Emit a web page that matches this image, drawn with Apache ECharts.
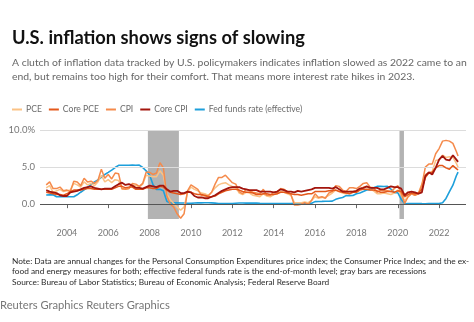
<!DOCTYPE html>
<html>
<head>
<meta charset="utf-8">
<style>
  html, body { margin: 0; padding: 0; background: #fff; }
  #chart { width: 474px; height: 322px; }
</style>
<script src="https://cdn.jsdelivr.net/npm/echarts@6/dist/echarts.min.js"></script>
</head>
<body>
<div id="chart"></div>
<script>
// Year-over-year % changes, sampled every other month (Jan, Mar, May, Jul, Sep, Nov) 2003-2022, plus Dec 2022
const pce = [
  2.2, 2.5, 1.6, 1.8, 2.0, 1.7,
  1.8, 1.9, 2.8, 2.6, 2.3, 3.0,
  2.6, 2.8, 2.5, 3.0, 3.9, 3.0,
  3.3, 2.9, 3.3, 3.2, 2.0, 2.0,
  2.1, 2.6, 2.5, 2.3, 2.7, 3.9,
  3.8, 3.7, 3.7, 4.5, 3.9, 1.4,
  0.6, 0.1, -0.4, -0.8, -0.4, 1.6,
  2.3, 2.0, 1.8, 1.5, 1.4, 1.2,
  1.6, 2.2, 2.6, 2.8, 2.9, 2.6,
  2.4, 2.3, 1.5, 1.3, 1.6, 1.5,
  1.2, 1.1, 1.0, 1.4, 1.1, 1.0,
  1.3, 1.4, 1.7, 1.6, 1.4, 1.2,
  0.2, 0.2, 0.2, 0.3, 0.2, 0.5,
  1.0, 0.8, 0.9, 0.9, 1.2, 1.5,
  1.9, 1.7, 1.5, 1.4, 1.7, 1.7,
  1.7, 2.0, 2.3, 2.3, 2.0, 1.8,
  1.4, 1.4, 1.5, 1.4, 1.3, 1.5,
  1.9, 1.3, 0.5, 1.0, 1.4, 1.2,
  1.5, 2.7, 4.0, 4.2, 4.4, 5.9,
  6.0, 6.6, 6.3, 6.4, 6.3, 5.5,
  5.0
];
const corePce = [
  1.6, 1.5, 1.4, 1.3, 1.3, 1.2,
  1.4, 1.7, 1.9, 1.9, 1.9, 2.0,
  2.1, 2.1, 2.0, 2.0, 2.0, 2.0,
  2.0, 2.0, 2.2, 2.4, 2.4, 2.2,
  2.3, 2.3, 2.0, 2.0, 2.0, 2.2,
  2.2, 2.1, 2.1, 2.4, 2.3, 1.9,
  1.6, 1.5, 1.4, 1.3, 1.4, 1.6,
  1.6, 1.4, 1.3, 1.3, 1.2, 1.0,
  1.0, 1.1, 1.4, 1.6, 1.8, 1.9,
  2.0, 2.0, 1.9, 1.7, 1.6, 1.6,
  1.5, 1.3, 1.3, 1.4, 1.4, 1.3,
  1.3, 1.4, 1.6, 1.6, 1.5, 1.4,
  1.3, 1.3, 1.2, 1.3, 1.4, 1.4,
  1.7, 1.7, 1.7, 1.7, 1.8, 1.8,
  1.9, 1.7, 1.6, 1.5, 1.4, 1.6,
  1.6, 1.9, 2.0, 2.0, 1.9, 1.9,
  1.8, 1.6, 1.6, 1.7, 1.7, 1.6,
  1.8, 1.7, 1.0, 1.3, 1.5, 1.4,
  1.5, 2.0, 3.6, 4.2, 4.3, 4.9,
  5.2, 5.2, 4.9, 4.7, 5.2, 4.8,
  4.6
];
const cpi = [
  2.6, 3.0, 2.1, 2.1, 2.3, 1.8,
  1.9, 1.7, 3.1, 3.0, 2.5, 3.5,
  3.0, 3.1, 2.8, 3.2, 4.7, 3.5,
  4.0, 3.4, 4.2, 4.1, 2.1, 2.0,
  2.1, 2.8, 2.7, 2.4, 2.8, 4.3,
  4.3, 4.0, 4.2, 5.6, 4.9, 1.1,
  0.0, -0.4, -1.3, -1.9, -1.3, 1.8,
  2.6, 2.3, 2.0, 1.2, 1.1, 1.1,
  1.6, 2.7, 3.6, 3.6, 3.9, 3.4,
  2.9, 2.7, 1.7, 1.4, 2.0, 1.8,
  1.6, 1.5, 1.4, 2.0, 1.2, 1.2,
  1.6, 1.5, 2.1, 2.0, 1.7, 1.3,
  -0.1, -0.1, 0.0, 0.2, 0.0, 0.5,
  1.4, 0.9, 1.0, 0.8, 1.5, 1.7,
  2.5, 2.4, 1.9, 1.7, 2.2, 2.2,
  2.1, 2.4, 2.8, 2.9, 2.3, 2.2,
  1.6, 1.9, 1.8, 1.8, 1.7, 2.1,
  2.5, 1.5, 0.1, 1.0, 1.4, 1.2,
  1.4, 2.6, 5.0, 5.4, 5.4, 6.8,
  7.5, 8.5, 8.6, 8.5, 8.2, 7.1,
  6.5
];
const coreCpi = [
  1.9, 1.7, 1.6, 1.5, 1.2, 1.1,
  1.1, 1.6, 1.7, 1.8, 2.0, 2.2,
  2.3, 2.4, 2.2, 2.1, 2.0, 2.1,
  2.1, 2.1, 2.4, 2.7, 2.9, 2.6,
  2.7, 2.5, 2.2, 2.2, 2.1, 2.3,
  2.5, 2.4, 2.3, 2.5, 2.5, 2.0,
  1.7, 1.8, 1.8, 1.5, 1.5, 1.7,
  1.6, 1.1, 0.9, 0.9, 0.8, 0.8,
  1.0, 1.2, 1.5, 1.8, 2.0, 2.2,
  2.3, 2.3, 2.3, 2.1, 2.0, 1.9,
  1.9, 1.9, 1.7, 1.7, 1.7, 1.7,
  1.6, 1.7, 2.0, 1.9, 1.7, 1.7,
  1.6, 1.8, 1.7, 1.8, 1.9, 2.0,
  2.2, 2.2, 2.2, 2.2, 2.2, 2.1,
  2.3, 2.0, 1.7, 1.7, 1.7, 1.7,
  1.8, 2.1, 2.2, 2.4, 2.2, 2.2,
  2.2, 2.0, 2.0, 2.2, 2.4, 2.3,
  2.3, 2.1, 1.2, 1.6, 1.7, 1.6,
  1.4, 1.6, 3.8, 4.3, 4.0, 4.9,
  6.0, 6.5, 6.0, 5.9, 6.6, 6.0,
  5.7
];
// Effective federal funds rate, end-of-month level, %
const fedFunds = [
  1.24, 1.25, 1.26, 1.01, 1.01, 1.00,
  1.00, 1.00, 1.00, 1.26, 1.61, 1.93,
  2.28, 2.63, 3.00, 3.26, 3.62, 4.00,
  4.29, 4.59, 4.94, 5.24, 5.25, 5.25,
  5.25, 5.26, 5.25, 5.26, 4.94, 4.49,
  3.94, 2.61, 1.98, 2.01, 1.81, 0.39,
  0.15, 0.18, 0.18, 0.16, 0.15, 0.12,
  0.11, 0.16, 0.20, 0.18, 0.19, 0.19,
  0.17, 0.14, 0.09, 0.07, 0.08, 0.08,
  0.08, 0.13, 0.16, 0.16, 0.14, 0.16,
  0.14, 0.14, 0.11, 0.09, 0.08, 0.08,
  0.07, 0.08, 0.09, 0.09, 0.09, 0.09,
  0.11, 0.11, 0.12, 0.13, 0.14, 0.12,
  0.34, 0.36, 0.37, 0.39, 0.40, 0.41,
  0.65, 0.79, 0.91, 1.15, 1.15, 1.16,
  1.41, 1.51, 1.70, 1.91, 1.95, 2.20,
  2.40, 2.41, 2.39, 2.40, 2.04, 1.55,
  1.55, 0.65, 0.05, 0.09, 0.09, 0.09,
  0.09, 0.07, 0.06, 0.10, 0.08, 0.08,
  0.08, 0.20, 0.77, 1.68, 2.56, 3.83,
  4.33
];
// Recession periods as [start, end] in decimal years
const recessions = [[2007.917, 2009.417], [2020.083, 2020.3]];
const yearTicks = [2004, 2006, 2008, 2010, 2012, 2014, 2016, 2018, 2020, 2022];
const yTicks = [0, 5, 10];

// Sample months: odd months of each year, then December 2022
const months = [];
for (let y = 2003; y <= 2022; y++) {
  for (const m of [1, 3, 5, 7, 9, 11]) months.push(y + (m - 1) / 12);
}
months.push(2022 + 11 / 12);

const pair = arr => arr.map((v, i) => [months[i], v]);

const FONT = 'Lato';
const chart = echarts.init(document.getElementById('chart'), null, { renderer: 'canvas' });

const lineSeries = (name, data, color, width, z) => ({
  name, type: 'line', data: pair(data), showSymbol: false, symbol: 'none',
  lineStyle: { color, width }, itemStyle: { color }, z, silent: true, animation: false
});

chart.setOption({
  animation: false,
  textStyle: { fontFamily: FONT },
  grid: { left: 40, right: 8, top: 130, bottom: 103, containLabel: false },
  legend: {
    top: 100, left: 7, itemWidth: 10, itemHeight: 2, itemGap: 7, icon: 'rect',
    textStyle: { color: '#6b6b6b', fontSize: 8.6, fontFamily: FONT, padding: [0, 0, 0, -1] },
    data: ['PCE', 'Core PCE', 'CPI', 'Core CPI', 'Fed funds rate (effective)']
  },
  xAxis: {
    type: 'value', min: 2002.7, max: 2023.3,
    axisLine: { show: false },
    splitLine: { show: false },
    axisTick: { show: true, length: 4, lineStyle: { color: '#666' }, customValues: yearTicks },
    axisLabel: { color: '#777', fontSize: 9, margin: 10, customValues: yearTicks, formatter: v => String(v) }
  },
  yAxis: {
    type: 'value', min: -2, max: 10,
    axisLine: { show: false }, axisTick: { show: false },
    splitLine: { show: false },
    axisLabel: {
      color: '#777', fontSize: 9.5, margin: 5, customValues: yTicks,
      formatter: v => v === 10 ? '10.0%' : v.toFixed(1)
    }
  },
  series: [
    {
      type: 'line', data: [], silent: true, z: 1,
      markArea: {
        silent: true,
        itemStyle: { color: '#b3b3b3' },
        data: recessions.map(r => [{ xAxis: r[0], yAxis: -2 }, { xAxis: r[1], yAxis: 10 }])
      },
      markLine: {
        silent: true, symbol: 'none', label: { show: false },
        data: [
          { yAxis: 5, lineStyle: { color: '#dcdcdc', width: 1, type: 'solid' } },
          { yAxis: 10, lineStyle: { color: '#dcdcdc', width: 1, type: 'solid' } },
          { yAxis: 0, lineStyle: { color: '#555', width: 1, type: 'solid' } }
        ]
      }
    },
    lineSeries('Fed funds rate (effective)', fedFunds, '#1d9fdb', 1.6, 2),
    lineSeries('PCE', pce, '#fbc285', 1.5, 3),
    lineSeries('CPI', cpi, '#f58a4b', 1.5, 4),
    lineSeries('Core PCE', corePce, '#e4581b', 1.5, 5),
    lineSeries('Core CPI', coreCpi, '#a3150d', 1.8, 6)
  ],
  graphic: [
    { type: 'text', left: 12, top: 29, style: { text: 'U.S. inflation shows signs of slowing', fontFamily: FONT, fontWeight: 'bold', fontSize: 18.3, fill: '#111' } },
    { type: 'text', left: 12, top: 58, style: { text: 'A clutch of inflation data tracked by U.S. policymakers indicates inflation slowed as 2022 came to an', fontFamily: FONT, fontSize: 10.4, fill: '#666' } },
    { type: 'text', left: 12, top: 72, style: { text: 'end, but remains too high for their comfort. That means more interest rate hikes in 2023.', fontFamily: FONT, fontSize: 10.4, fill: '#666' } },
    { type: 'text', left: 12, top: 257, style: { text: 'Note: Data are annual changes for the Personal Consumption Expenditures price index; the Consumer Price Index; and the ex-', fontFamily: FONT, fontSize: 8.3, fill: '#2a2a2a' } },
    { type: 'text', left: 12, top: 267, style: { text: 'food and energy measures for both; effective federal funds rate is the end-of-month level; gray bars are recessions', fontFamily: FONT, fontSize: 8.3, fill: '#2a2a2a' } },
    { type: 'text', left: 12, top: 278, style: { text: 'Source: Bureau of Labor Statistics; Bureau of Economic Analysis; Federal Reserve Board', fontFamily: FONT, fontSize: 8.3, fill: '#2a2a2a' } },
    { type: 'text', left: 0, top: 300, style: { text: 'Reuters Graphics Reuters Graphics', fontFamily: FONT, fontSize: 11.2, fill: '#777' } }
  ]
});
</script>
</body>
</html>
